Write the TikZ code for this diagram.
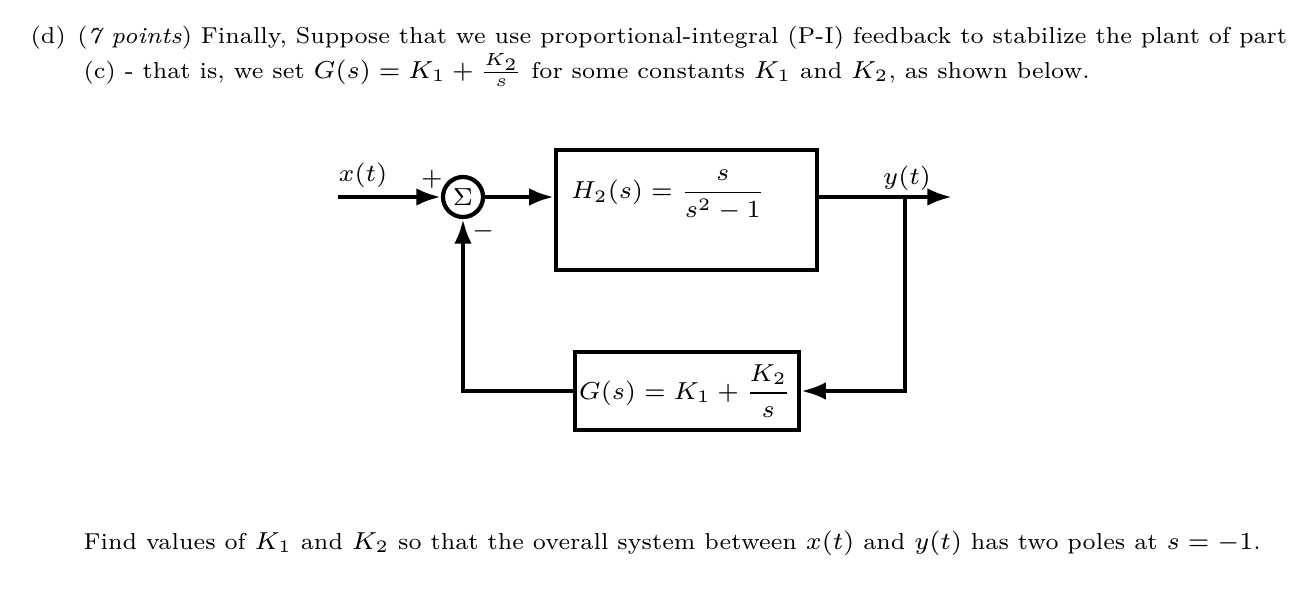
\documentclass[tikz,border=0pt]{standalone}
\usepackage{amsmath}
\usetikzlibrary{arrows.meta}
\begin{document}
\begin{tikzpicture}[x=0.01cm,y=-0.01cm,
  blk/.style={draw,line width=1.2pt,inner sep=0pt},
  wire/.style={line width=1.2pt},
  arr/.style={wire,-{Latex[length=7pt,width=5pt]}},
  txt/.style={inner sep=0pt,font=\fontsize{6.55}{8}\selectfont},
  lab/.style={inner sep=0pt,font=\fontsize{6.9}{8}\selectfont}]
\useasboundingbox (0,0) rectangle (1313,616);
\node[txt,anchor=west] (l1) at (30,38) {(d)\enspace(\textit{7 points}) Finally, Suppose that we use proportional-integral (P-I) feedback to stabilize the plant of part};
\node[txt,anchor=west] (l2) at (83,70) {(c) - that is, we set $G(s)=K_1+\frac{K_2}{s}$ for some constants $K_1$ and $K_2$, as shown below.};
\node[txt,anchor=west] (l3) at (83,543) {Find values of $K_1$ and $K_2$ so that the overall system between $x(t)$ and $y(t)$ has two poles at $s=-1$.};
\coordinate (in) at (338,197);
\node[draw,circle,line width=1.2pt,inner sep=0pt,minimum width=0.4cm] (sum) at (463,197) {\fontsize{7.5}{9}\selectfont$\Sigma$};
\node[lab] (xt) at (363,175) {$x(t)$};
\node[lab] (pl) at (432,179) {$+$};
\node[lab] (mi) at (483,231) {$-$};
\node[blk,minimum width=2.61cm,minimum height=1.2cm] (H) at (686.5,210) {};
\node[lab] (Ht) at (668,195) {$H_2(s)=\dfrac{s}{s^2-1}$};
\node[blk,minimum width=2.24cm,minimum height=0.78cm] (G) at (687,391) {};
\node[lab] (Gt) at (685,391) {$G(s)=K_1+\dfrac{K_2}{s}$};
\coordinate (out) at (952,197);
\coordinate (tap) at (905,197);
\node[lab] (yt) at (907,178) {$y(t)$};
\draw[arr] (in) -- (sum.west);
\draw[arr] (sum.east) -- (sum.east -| H.west);
\draw[arr] (H.east |- out) -- (out);
\draw[arr] (tap) |- (G.east);
\draw[arr] (G.west) -| (sum.south);
\end{tikzpicture}
\end{document}
